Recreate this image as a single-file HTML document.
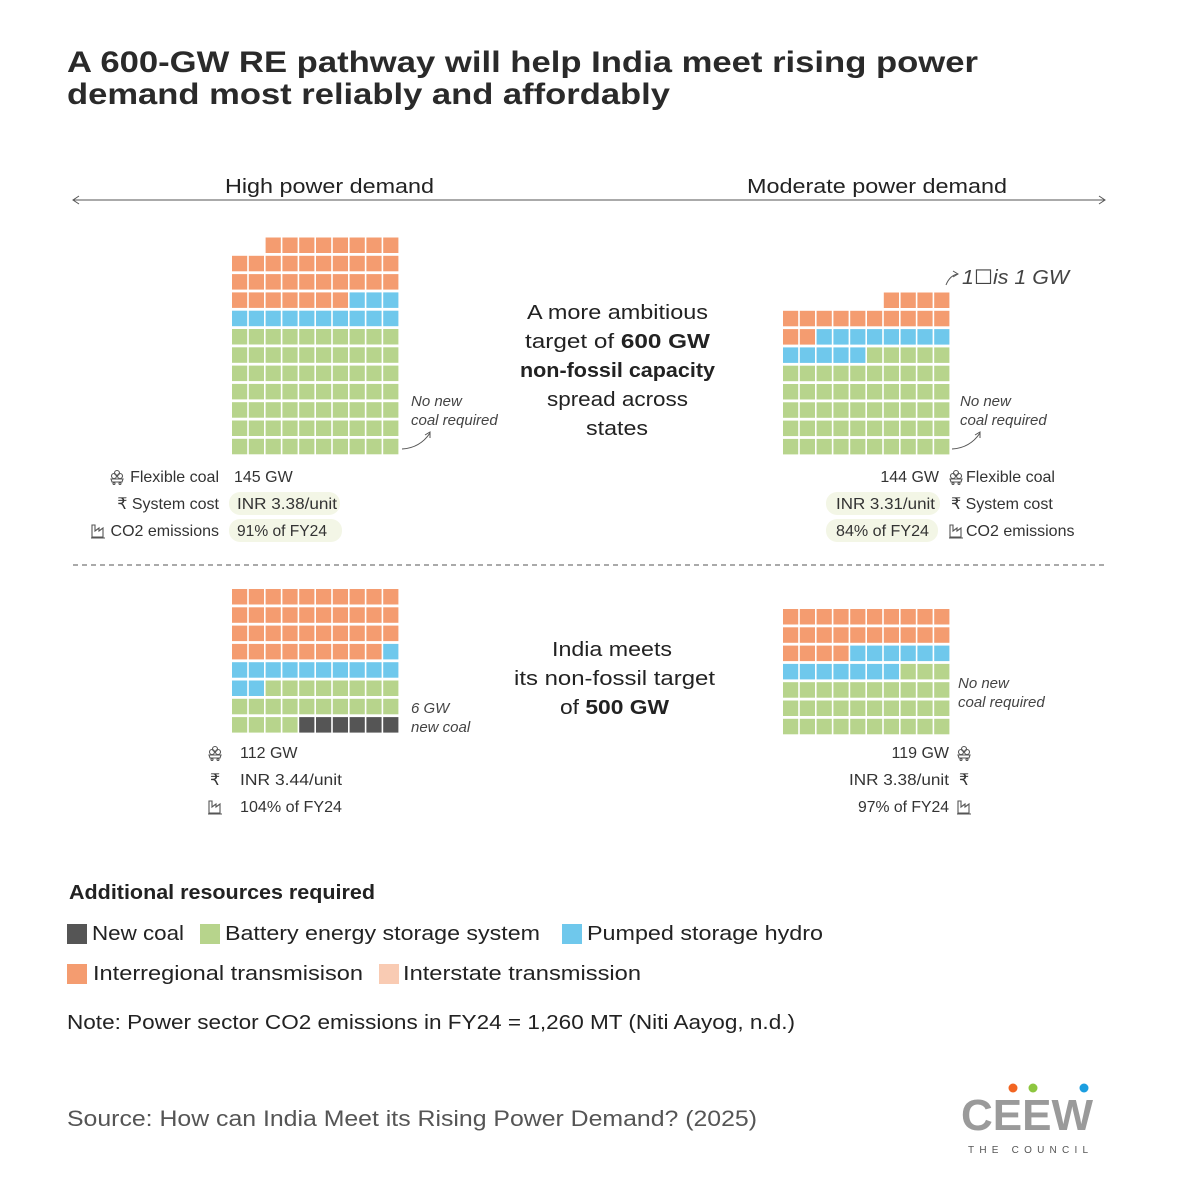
<!DOCTYPE html>
<html><head><meta charset="utf-8"><style>
html,body{margin:0;padding:0;background:#fff;}
svg{display:block;font-family:"Liberation Sans","DejaVu Sans",sans-serif;}
</style></head><body>
<svg id="s" width="1196" height="1200" viewBox="0 0 1196 1200" xmlns="http://www.w3.org/2000/svg">
<rect width="1196" height="1200" fill="#fff"/>
<g font-weight="bold" font-size="30" fill="#2a2a2a">
<text x="67" y="72" textLength="911" lengthAdjust="spacingAndGlyphs">A 600-GW RE pathway will help India meet rising power</text>
<text x="67" y="104" textLength="603" lengthAdjust="spacingAndGlyphs">demand most reliably and affordably</text>
</g>
<g font-size="20" fill="#222">
<text x="225" y="193" textLength="209" lengthAdjust="spacingAndGlyphs">High power demand</text>
<text x="747" y="193" textLength="260" lengthAdjust="spacingAndGlyphs">Moderate power demand</text>
</g>
<line x1="73" y1="200" x2="1105" y2="200" stroke="#555" stroke-width="1"/>
<path d="M79 196 L73 200 L79 204 M1099 196 L1105 200 L1099 204" fill="none" stroke="#555"/>
<g font-size="20" fill="#222" lengthAdjust="spacingAndGlyphs">
<text x="527" y="319" textLength="181" lengthAdjust="spacingAndGlyphs">A more ambitious</text>
<text x="525" y="348" textLength="185" lengthAdjust="spacingAndGlyphs">target of <tspan font-weight="bold"> 600 GW</tspan></text>
<text x="520" y="377" font-weight="bold" textLength="195" lengthAdjust="spacingAndGlyphs">non-fossil capacity</text>
<text x="547" y="406" textLength="141" lengthAdjust="spacingAndGlyphs">spread across</text>
<text x="586" y="435" textLength="62" lengthAdjust="spacingAndGlyphs">states</text>
<text x="552" y="656" textLength="120" lengthAdjust="spacingAndGlyphs">India meets</text>
<text x="514" y="685" textLength="201" lengthAdjust="spacingAndGlyphs">its non-fossil target</text>
<text x="560" y="714" textLength="109" lengthAdjust="spacingAndGlyphs">of <tspan font-weight="bold">500 GW</tspan></text>
</g>
<g id="w"></g>
<g font-size="15" font-style="italic" fill="#444">
<text x="411" y="406">No new</text><text x="411" y="425">coal required</text>
<text x="960" y="406">No new</text><text x="960" y="425">coal required</text>
<text x="411" y="713">6 GW</text><text x="411" y="732">new coal</text>
<text x="958" y="688">No new</text><text x="958" y="707">coal required</text>
<text x="962" y="284" font-size="20" textLength="107" lengthAdjust="spacingAndGlyphs">1☐is 1 GW</text>
</g>
<g fill="none" stroke="#555" stroke-width="1">
<path d="M402 449 Q420 448 430 433"/><path d="M425 435 L430 432 L430 438"/>
<path d="M952 449 Q970 448 980 433"/><path d="M975 435 L980 432 L980 438"/>
<path d="M946 285 Q950 275 958 274"/><path d="M953 271 L958 274 L953 277"/>
</g>
<g fill="#f3f6e6">
<rect x="229" y="492" width="111" height="23" rx="11"/>
<rect x="229" y="519" width="113" height="23" rx="11"/>
<rect x="826" y="492" width="114" height="23" rx="11"/>
<rect x="826" y="519" width="112" height="23" rx="11"/>
</g>
<g font-size="16" fill="#333">
<text x="219" y="482" text-anchor="end">Flexible coal</text>
<text x="219" y="509" text-anchor="end">₹ System cost</text>
<text x="219" y="536" text-anchor="end">CO2 emissions</text>
<text x="234" y="482">145 GW</text>
<text x="237" y="509" textLength="100" lengthAdjust="spacingAndGlyphs">INR 3.38/unit</text>
<text x="237" y="536" textLength="90" lengthAdjust="spacingAndGlyphs">91% of FY24</text>
<text x="939" y="482" text-anchor="end">144 GW</text>
<text x="836" y="509" textLength="99" lengthAdjust="spacingAndGlyphs">INR 3.31/unit</text>
<text x="836" y="536" textLength="93" lengthAdjust="spacingAndGlyphs">84% of FY24</text>
<text x="966" y="482">Flexible coal</text>
<text x="951" y="509">₹ System cost</text>
<text x="966" y="536">CO2 emissions</text>
<text x="240" y="758">112 GW</text>
<text x="240" y="785" textLength="102" lengthAdjust="spacingAndGlyphs">INR 3.44/unit</text>
<text x="240" y="812" textLength="102" lengthAdjust="spacingAndGlyphs">104% of FY24</text>
<text x="210" y="785">₹</text>
<text x="949" y="758" text-anchor="end">119 GW</text>
<text x="849" y="785" textLength="100" lengthAdjust="spacingAndGlyphs">INR 3.38/unit</text>
<text x="858" y="812" textLength="91" lengthAdjust="spacingAndGlyphs">97% of FY24</text>
<text x="959" y="785">₹</text>
</g>
<g id="ic" fill="none" stroke="#555" stroke-width="1.1"></g>
<line x1="73" y1="565" x2="1105" y2="565" stroke="#555" stroke-dasharray="5,4"/>
<text x="69" y="899" font-size="20" font-weight="bold" fill="#222" textLength="306" lengthAdjust="spacingAndGlyphs">Additional resources required</text>
<g font-size="20" fill="#222">
<rect x="67" y="924" width="20" height="20" fill="#555"/><text x="92" y="940" textLength="92" lengthAdjust="spacingAndGlyphs">New coal</text>
<rect x="200" y="924" width="20" height="20" fill="#b7d48c"/><text x="225" y="940" textLength="315" lengthAdjust="spacingAndGlyphs">Battery energy storage system</text>
<rect x="562" y="924" width="20" height="20" fill="#6fc8ec"/><text x="587" y="940" textLength="236" lengthAdjust="spacingAndGlyphs">Pumped storage hydro</text>
<rect x="67" y="964" width="20" height="20" fill="#f49c70"/><text x="93" y="980" textLength="270" lengthAdjust="spacingAndGlyphs">Interregional transmisison</text>
<rect x="379" y="964" width="20" height="20" fill="#f9cbb3"/><text x="403" y="980" textLength="238" lengthAdjust="spacingAndGlyphs">Interstate transmission</text>
<text x="67" y="1029" textLength="728" lengthAdjust="spacingAndGlyphs">Note: Power sector CO2 emissions in FY24 = 1,260 MT (Niti Aayog, n.d.)</text>
</g>
<text x="67" y="1126" font-size="22" fill="#555" textLength="690" lengthAdjust="spacingAndGlyphs">Source: How can India Meet its Rising Power Demand? (2025)</text>
<circle cx="1013" cy="1088" r="4.5" fill="#f26522"/>
<circle cx="1033" cy="1088" r="4.5" fill="#8dc63f"/>
<circle cx="1084" cy="1088" r="4.5" fill="#1b9ee0"/>
<text x="961" y="1130" font-size="44" font-weight="bold" fill="#9a9a9a" textLength="132" lengthAdjust="spacingAndGlyphs">CEEW</text>
<text x="968" y="1153" font-size="10" fill="#555" textLength="120" lengthAdjust="spacing">THE COUNCIL</text>
</svg>
<script>
var NS="http://www.w3.org/2000/svg",g=document.getElementById('w');
var C={o:"#f49c70",b:"#6fc8ec",g:"#b7d48c",d:"#555555"};
function waf(x0,y0,rows){rows.forEach(function(r,i){for(var j=0;j<10;j++){var c=r[j];if(c==='.')continue;var e=document.createElementNS(NS,'rect');e.setAttribute('x',(x0+j*16.8).toFixed(1));e.setAttribute('y',(y0+i*18.3).toFixed(1));e.setAttribute('width',15.2);e.setAttribute('height',15.5);e.setAttribute('fill',C[c]);g.appendChild(e);}});}
var G="gggggggggg",O="oooooooooo",B="bbbbbbbbbb";
waf(232,237.5,["..oooooooo",O,O,"ooooooobbb",B,G,G,G,G,G,G,G]);
waf(783,292.5,["......oooo",O,"oobbbbbbbb","bbbbbggggg",G,G,G,G,G]);
waf(232,589,[O,O,O,"ooooooooob",B,"bbgggggggg",G,"ggggdddddd"]);
waf(783,609,[O,O,"oooobbbbbb","bbbbbbbggg",G,G,G]);
var ic=document.getElementById('ic');
function coal(x,y){ic.insertAdjacentHTML('beforeend','<g transform="translate('+x+','+y+')"><path d="M1 10 L13 10 L12 13 L2 13 Z"/><circle cx="4" cy="7" r="2.5"/><circle cx="7" cy="4" r="2.5"/><circle cx="10" cy="7" r="2.5"/><circle cx="4" cy="14.5" r="1"/><circle cx="10" cy="14.5" r="1"/></g>');}
function fac(x,y){ic.insertAdjacentHTML('beforeend','<g transform="translate('+x+','+y+')"><path d="M1 14 L1 2 L4 2 L4 8 L8 5 L8 8 L12 5 L12 14 Z M0 15 L14 15"/></g>');}
coal(110,469);fac(91,523);coal(949,469);fac(949,523);
coal(208,745);fac(208,799);coal(957,745);fac(957,799);
</script>
</body></html>
